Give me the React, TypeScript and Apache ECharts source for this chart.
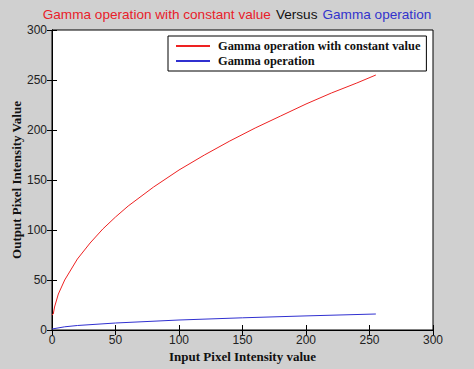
import React, { useEffect, useRef } from "react";
import * as echarts from "echarts";

const xTicks = [0, 50, 100, 150, 200, 250, 300];
const yTicks = [0, 50, 100, 150, 200, 250, 300];

const redX = [0, 1, 2, 5, 10, 20, 30, 40, 50, 60, 80, 100, 120, 140, 160, 180, 200, 220, 240, 255];
const redY = [15, 16, 23, 36, 50, 71, 87, 101, 113, 124, 143, 160, 175, 189, 202, 214, 226, 237, 247, 255];

const blueX = [0, 10, 20, 50, 100, 150, 200, 255];
const blueY = [1, 3.2, 4.5, 7, 10, 12.2, 14.1, 16];

const seriesNames = ["Gamma operation with constant value", "Gamma operation"];

export default function App() {
  const ref = useRef<HTMLDivElement>(null);
  useEffect(() => {
    document.body.style.margin = "0";
    const chart = echarts.init(ref.current!, null, { renderer: "svg" });
    const sans = "Liberation Sans";
    const serif = "Liberation Serif";
    const tickLabel = { color: "#222", fontFamily: sans, fontSize: 12 };
    const ts = 13.6;
    chart.setOption({
      animation: false,
      backgroundColor: "#d0d0d0",
      title: {
        left: "center",
        top: 3,
        padding: [2, 5, 2, 5],
        text: "{r|Gamma operation with constant value} {k|Versus} {b|Gamma operation}",
        textStyle: {
          fontWeight: "normal",
          rich: {
            r: { color: "#e8202a", fontFamily: sans, fontSize: ts, fontWeight: "normal" },
            k: { color: "#111", fontFamily: sans, fontSize: ts, fontWeight: "normal" },
            b: { color: "#3333cc", fontFamily: sans, fontSize: ts, fontWeight: "normal" },
          },
        },
      },
      legend: {
        orient: "vertical",
        left: 168,
        top: 36,
        backgroundColor: "#fff",
        borderColor: "#000",
        borderWidth: 1,
        borderRadius: 0,
        padding: [4, 6, 4, 8],
        itemGap: 3,
        itemWidth: 34,
        itemHeight: 2,
        icon: "rect",
        data: seriesNames,
        textStyle: { fontFamily: serif, fontWeight: "bold", fontSize: 12.4, color: "#111", padding: [0, 0, 0, 3] },
      },
      grid: {
        left: 52,
        right: 41,
        top: 30,
        bottom: 39,
        outerBoundsMode: "none",
        containLabel: false,
        show: true,
        backgroundColor: "#fff",
        borderColor: "#000",
        borderWidth: 1,
      },
      xAxis: [
        {
          type: "value",
          min: xTicks[0],
          max: xTicks[xTicks.length - 1],
          interval: 50,
          position: "bottom",
          name: "Input Pixel Intensity value",
          nameLocation: "middle",
          nameGap: 20,
          nameMoveOverlap: false,
          nameTextStyle: { fontFamily: serif, fontWeight: "bold", fontSize: 13, color: "#111" },
          axisLine: { lineStyle: { color: "#000" } },
          axisTick: { inside: true, length: 5, lineStyle: { color: "#000" } },
          axisLabel: { ...tickLabel, margin: 4 },
          splitLine: { show: false },
        },
        {
          type: "value",
          min: xTicks[0],
          max: xTicks[xTicks.length - 1],
          interval: 50,
          position: "top",
          axisLine: { lineStyle: { color: "#000" } },
          axisTick: { inside: true, length: 5, lineStyle: { color: "#000" } },
          axisLabel: { show: false },
          splitLine: { show: false },
        },
      ],
      yAxis: [
        {
          type: "value",
          min: yTicks[0],
          max: yTicks[yTicks.length - 1],
          interval: 50,
          position: "left",
          name: "Output Pixel Intensity Value",
          nameLocation: "middle",
          nameGap: 29,
          nameMoveOverlap: false,
          nameTextStyle: { fontFamily: serif, fontWeight: "bold", fontSize: 13, color: "#111" },
          axisLine: { lineStyle: { color: "#000" } },
          axisTick: { inside: true, length: 5, lineStyle: { color: "#000" } },
          axisLabel: { ...tickLabel, margin: 5 },
          splitLine: { show: false },
        },
        {
          type: "value",
          min: yTicks[0],
          max: yTicks[yTicks.length - 1],
          interval: 50,
          position: "right",
          axisLine: { lineStyle: { color: "#000" } },
          axisTick: { inside: true, length: 5, lineStyle: { color: "#000" } },
          axisLabel: { show: false },
          splitLine: { show: false },
        },
      ],
      series: [
        {
          name: seriesNames[0],
          type: "line",
          showSymbol: false,
          symbol: "none",
          color: "#ee2222",
          lineStyle: { width: 1, color: "#ee2222" },
          data: redX.map((x, i) => [x, redY[i]]),
        },
        {
          name: seriesNames[1],
          type: "line",
          showSymbol: false,
          symbol: "none",
          color: "#3030d0",
          lineStyle: { width: 1, color: "#3030d0" },
          data: blueX.map((x, i) => [x, blueY[i]]),
        },
      ],
    });
    return () => chart.dispose();
  }, []);
  return <div ref={ref} style={{ width: 474, height: 369 }} />;
}
